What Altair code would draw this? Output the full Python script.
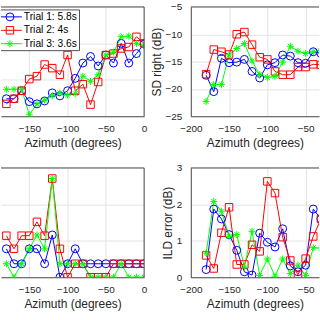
import altair as alt
import pandas as pd

# Azimuth positions (degrees)
AZ = [-180, -170, -160, -150, -140, -130, -120, -110, -100, -90,
      -80, -70, -60, -50, -40, -30, -20, -10, 0]

TRIALS = ["Trial 1: 5.8s", "Trial 2: 4s", "Trial 3: 3.6s"]
COLORS = ["#0000ff", "#ff0000", "#00ff00"]

# SD left (dB)
sdl_t1 = [-17.6, -17.6, -16.5, -18.0, -18.3, -17.9, -16.8, -17.2, -16.5, -14.8,
          -12.7, -11.8, -13.1, -11.6, -12.7, -10.0, -12.7, -11.4, -10.1]
sdl_t2 = [-18.3, -17.6, -16.5, -14.9, -14.5, -12.9, -13.4, -14.3, -11.6, -16.5,
          -15.6, -18.4, -15.3, -11.6, -11.4, -10.7, -10.5, -9.1, -10.0]
sdl_t3 = [-16.3, -16.3, -16.3, -19.8, -18.3, -17.8, -17.2, -16.8, -17.1, -16.9,
          -14.5, -15.2, -14.3, -11.6, -11.2, -9.1, -9.0, -10.0, -10.3]

# SD right (dB), -180 .. -30
sdr_t1 = [-17.5, -20.5, -14.4, -15.2, -15.1, -14.6, -16.8, -18.0, -15.6, -15.2,
          -13.8, -14.0, -15.2, -15.3, -13.2, -13.5]
sdr_t2 = [-17.3, -12.8, -13.2, -13.7, -10.0, -9.6, -11.9, -14.2, -14.6, -16.8,
          -17.4, -17.4, -16.0, -16.0, -15.5, -15.6]
sdr_t3 = [-22.3, -19.2, -19.2, -13.8, -12.6, -11.7, -14.9, -17.4, -17.9, -17.7,
          -15.1, -12.2, -13.1, -13.5, -13.2, -13.0]

# ITD error
itd_t1 = [0.78, 0.37, 0.37, 0.78, 0.78, 0.37, 1.16, 0.0, 0.37, 0.78,
          0.37, 0.37, 0.37, 0.37, 0.37, 0.37, 0.37, 0.37, 0.37]
itd_t2 = [1.14, 0.78, 1.14, 1.14, 1.52, 1.14, 2.71, 0.78, 0.0, 0.37,
          0.37, 0.0, 0.0, 0.0, 0.37, 0.37, 0.37, 0.37, 0.37]
itd_t3 = [0.37, 0.0, 0.37, 0.78, 1.16, 0.78, 2.71, 0.37, 0.37, 0.37,
          0.37, 0.0, 0.0, 0.0, 0.0, 0.37, 0.0, 0.0, 0.0]

# ILD error (dB), -180 .. -30
ild_t1 = [0.21, 1.87, 1.60, 1.17, 0.74, 0.15, 0.06, 1.21, 0.96, 0.83,
          1.33, 0.31, 0.15, 0.33, 1.87, 1.6]
ild_t2 = [0.60, 0.24, 1.22, 1.92, 0.35, 0.35, 0.89, 0.71, 2.63, 2.31,
          1.10, 0.46, 0.07, 0.51, 1.12, 1.6]
ild_t3 = [0.66, 2.08, 1.81, 1.12, 1.17, 0.28, 1.26, 0.05, 0.50, 0.03,
          0.50, 0.10, 0.33, 0.05, 0.81, 0.8]

FONT = "Liberation Sans"
AX = "#262626"
STAR = "M-1,0L1,0M0,-1L0,1M-0.7,-0.7L0.7,0.7M-0.7,0.7L0.7,-0.7"

# visible azimuth windows of the two columns
XDOM_L, WL = [-187, 0], 144
XDOM_R, WR = [-200, -32.5], 129
H = 110


def frame(series, az):
    rows = []
    for name, vals in zip(TRIALS, series):
        for a, v in zip(az, vals):
            rows.append({"az": a, "val": v, "trial": name})
    return pd.DataFrame(rows)


color_enc = alt.Color("trial:N", scale=alt.Scale(domain=TRIALS, range=COLORS),
                      legend=None)
shape_enc = alt.Shape("trial:N", scale=alt.Scale(domain=TRIALS,
                      range=["circle", "square", STAR]), legend=None)
size_enc = alt.Size("trial:N", scale=alt.Scale(domain=TRIALS, range=[64, 49, 64]),
                    legend=None)


def panel(df, xdom, xvals, w, ydom, yvals, ytitle, left_col):
    x = alt.X("az:Q", scale=alt.Scale(domain=xdom, nice=False),
              axis=alt.Axis(values=xvals, title="Azimuth (degrees)", ticks=False,
                            tickSize=0, domain=True, labelPadding=7,
                            titlePadding=4))
    if left_col:
        yaxis = alt.Axis(values=yvals, title=None, ticks=False, domain=False,
                         labels=False)
    else:
        yaxis = alt.Axis(values=yvals, title=ytitle, ticks=False, tickSize=0,
                         domain=True, labelPadding=9, titlePadding=2)
    y = alt.Y("val:Q", scale=alt.Scale(domain=ydom, nice=False), axis=yaxis)

    lines = alt.Chart(df).mark_line(strokeWidth=1, clip=True).encode(
        x=x, y=y, color=color_enc, detail="trial:N")
    pts = alt.Chart(df).mark_point(filled=False, strokeWidth=1, opacity=1,
                                   clip=True).encode(
        x=x, y=y, color=color_enc, shape=shape_enc, size=size_enc)

    one = alt.Chart(pd.DataFrame({"k": [0]}))
    top = one.mark_rule(color=AX, strokeWidth=0.8).encode(
        x=alt.value(0), x2=alt.value(w), y=alt.value(0))
    layers = [lines, pts, top]
    if left_col:
        right = one.mark_rule(color=AX, strokeWidth=0.8).encode(
            x=alt.value(w), y=alt.value(0), y2=alt.value(H))
        layers.append(right)
    return alt.layer(*layers).properties(width=w, height=H)


def legend_layer():
    ldf = pd.DataFrame({"trial": TRIALS})
    ly = alt.Y("trial:N", scale=alt.Scale(type="point", domain=TRIALS,
                                          range=[10, 37], padding=0), axis=None)
    base = alt.Chart(ldf)
    box = alt.Chart(pd.DataFrame({"k": [0]})).mark_rect(
        fill="white", stroke=AX, strokeWidth=0.8, clip=True).encode(
        x=alt.value(-5), x2=alt.value(79), y=alt.value(3), y2=alt.value(44))
    seg = base.mark_rule(strokeWidth=1, clip=True).encode(
        x=alt.value(-3), x2=alt.value(21), y=ly, color=color_enc)
    mk = base.mark_point(filled=False, strokeWidth=1, opacity=1, clip=True).encode(
        x=alt.value(9), y=ly, color=color_enc, shape=shape_enc, size=size_enc)
    txt = base.mark_text(align="left", baseline="middle", font=FONT,
                         fontSize=10.3, color="#000000").encode(
        x=alt.value(23), y=ly, text="trial:N")
    return alt.layer(box, seg, mk, txt)


X_LEFT = [-150, -100, -50, 0]
X_RIGHT = [-200, -150, -100, -50]

tl_core = panel(frame([sdl_t1, sdl_t2, sdl_t3], AZ), XDOM_L, X_LEFT, WL,
                [-20, -5], [-20, -15, -10, -5], "SD left (dB)", True)
tl = alt.layer(tl_core, legend_layer()).resolve_scale(y="independent").properties(
    width=WL, height=H)
tr = panel(frame([sdr_t1, sdr_t2, sdr_t3], AZ[:16]), XDOM_R, X_RIGHT, WR,
           [-25, -5], [-25, -20, -15, -10, -5], "SD right (dB)", False)
bl = panel(frame([itd_t1, itd_t2, itd_t3], AZ), XDOM_L, X_LEFT, WL,
           [0, 3], [0, 1, 2, 3], "ITD error", True)
br = panel(frame([ild_t1, ild_t2, ild_t3], AZ[:16]), XDOM_R, X_RIGHT, WR,
           [0, 3], [0, 1, 2, 3], "ILD error (dB)", False)

chart = alt.concat(
    tl, tr, bl, br, columns=2,
    spacing={"row": 52, "column": 47}, bounds="flush", align="each",
).properties(
    padding=0,
    background="white",
).configure_view(
    stroke="transparent"
).configure_axis(
    labelFont=FONT, labelFontSize=10, labelColor=AX, labelFlush=False,
    titleFont=FONT, titleFontSize=12, titleFontWeight="normal", titleColor=AX,
    gridColor="#e3e3e3", gridWidth=1, domainColor=AX, domainWidth=0.8,
)

chart.save("out.html", embed_options={"renderer": "svg", "actions": False})
